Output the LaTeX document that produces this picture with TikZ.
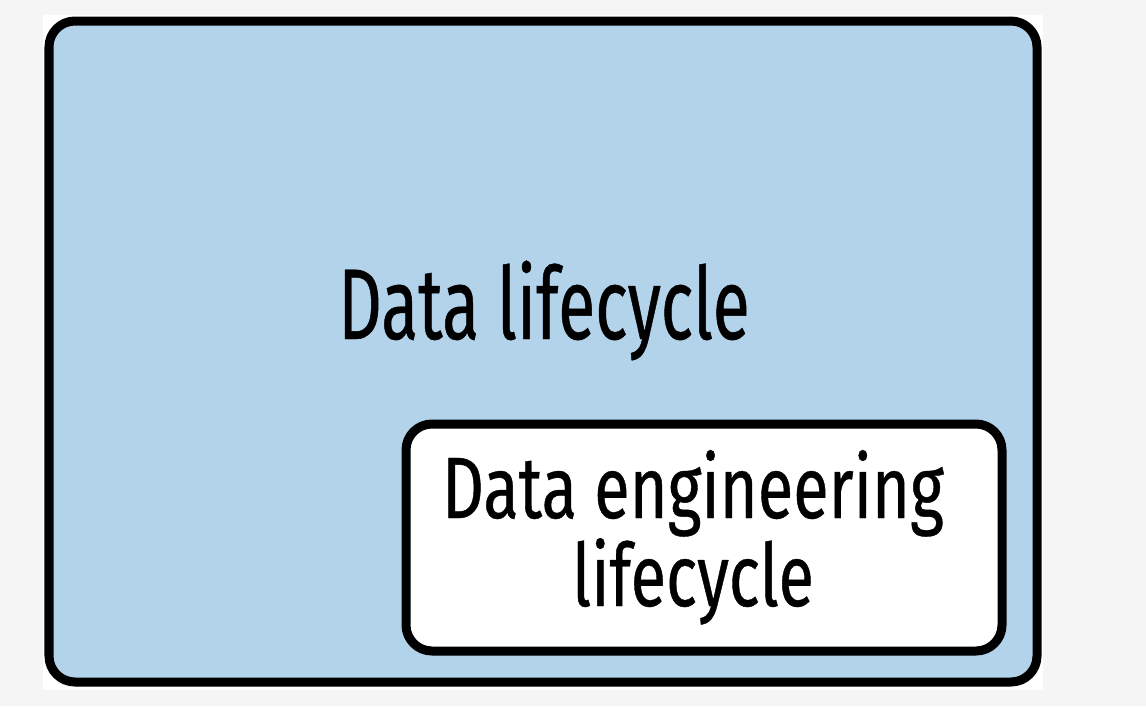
\documentclass[tikz,border=0pt]{standalone}
\usepackage{fontspec}
\setmainfont[FakeStretch=0.72]{Fira Sans}
\newfontfamily\outerfont[FakeStretch=0.675,FakeBold=0.45]{Fira Sans}
\newfontfamily\innerfont[FakeStretch=0.745,FakeBold=0.45]{Fira Sans}
\usepackage{tikz}
\definecolor{cyclefill}{HTML}{B2D3EA}
\definecolor{pagegray}{HTML}{F5F5F5}
\tikzset{%
	outerbox/.style = {draw, line width=0.225cm, rounded corners=0.65cm, fill=cyclefill},
	innerbox/.style = {draw, line width=0.225cm, rounded corners=0.65cm, fill=white},
	bigtext/.style  = {font=\outerfont\fontsize{71.5}{59}\selectfont, anchor=base},
	boxtext/.style  = {font=\innerfont\fontsize{62}{59}\selectfont, align=center, anchor=base},
}
\begin{document}
\begin{tikzpicture}[x=0.025cm,y=-0.025cm]
	\fill[pagegray] (0,0) rectangle (1146,706);
	\fill[white] (43,15) rectangle (1043,690);
	
	\draw[outerbox] (49,21) rectangle (1037,682);
	\draw[innerbox] (406,424) rectangle (1002,651);
	
	\node[bigtext] (dl) at (544,339) {Data lifecycle};
	\node[boxtext] (del) at (693,606) {Data engineering\\lifecycle};
\end{tikzpicture}
\end{document}
